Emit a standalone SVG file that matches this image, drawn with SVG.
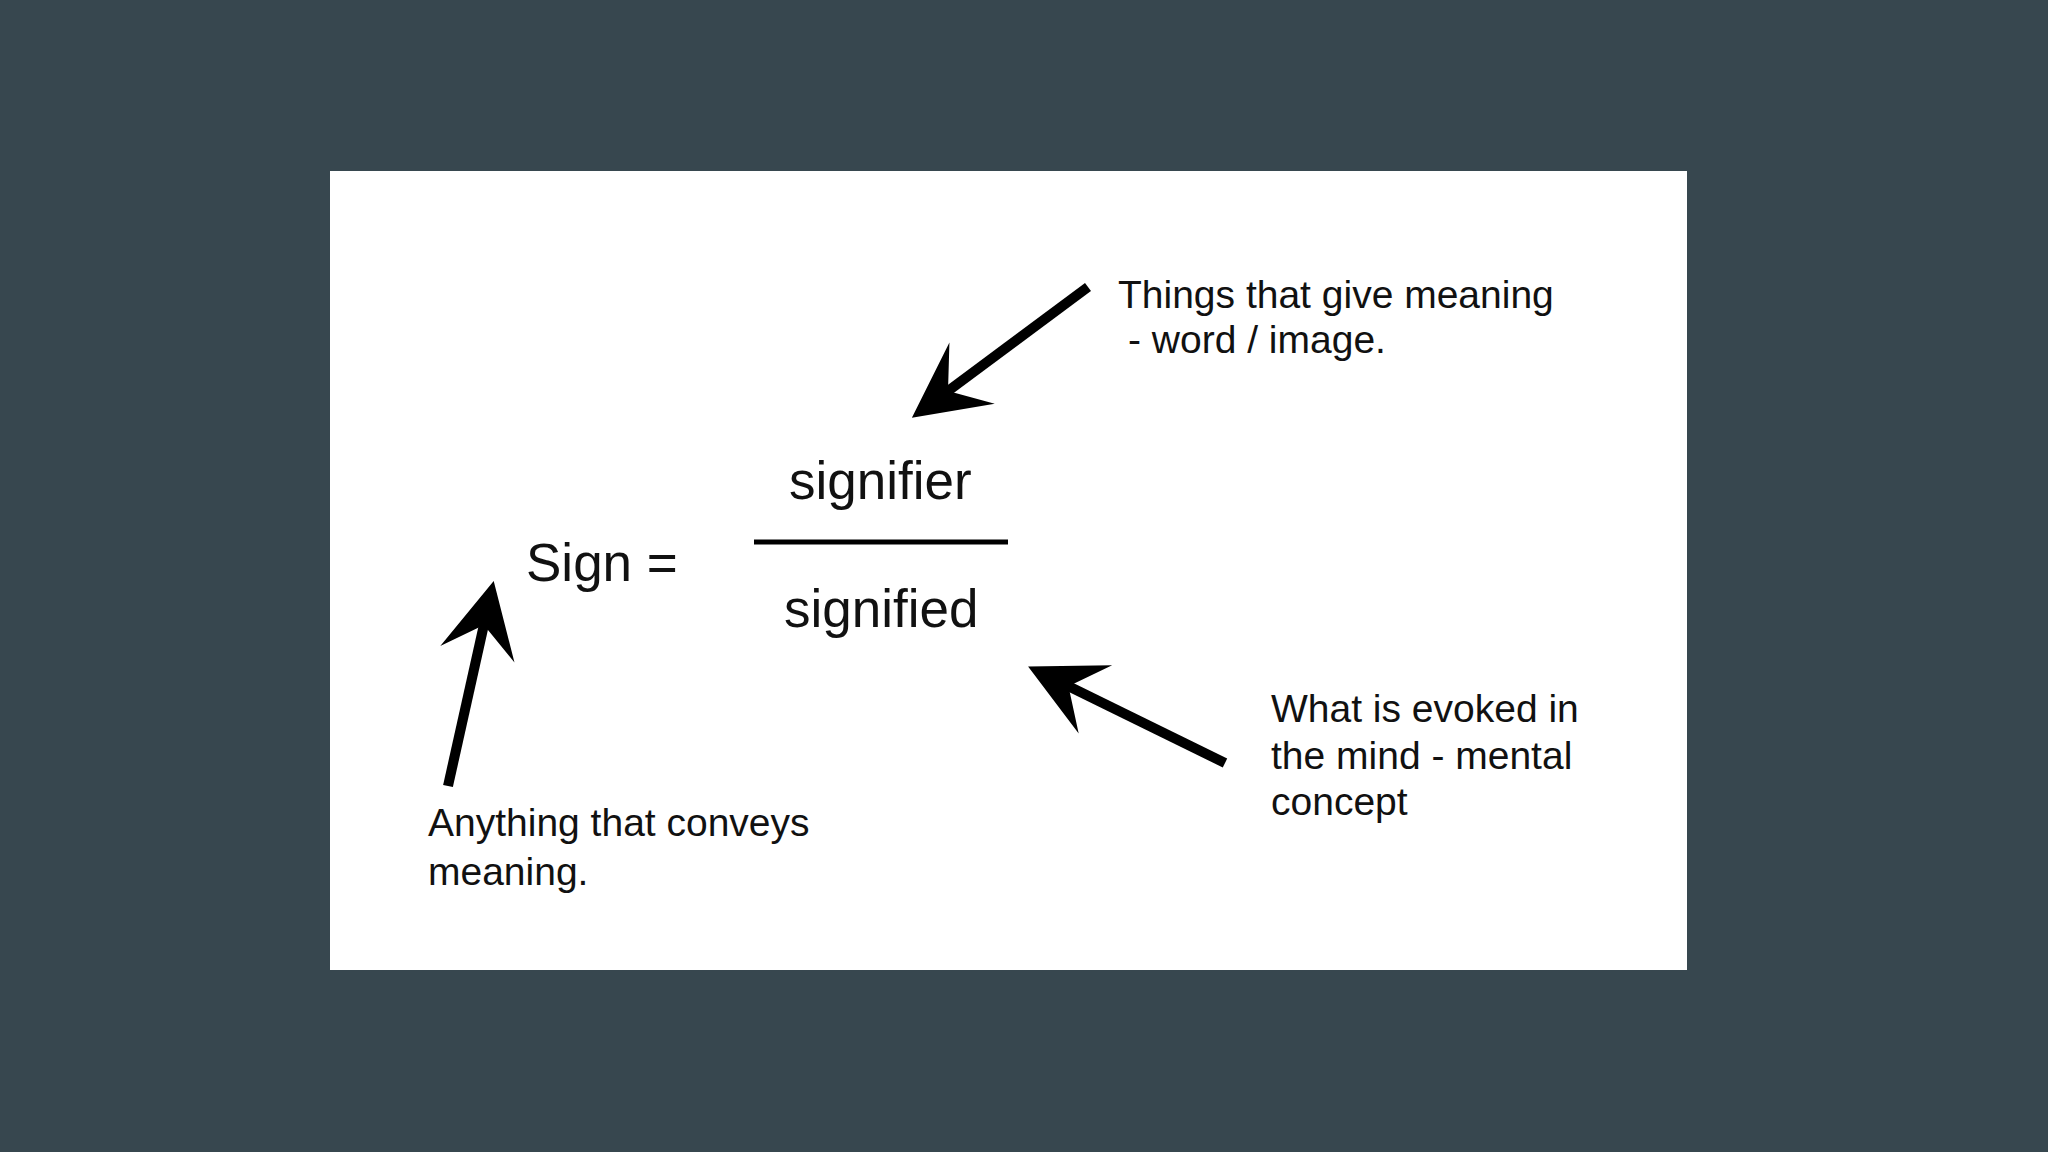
<svg xmlns="http://www.w3.org/2000/svg" width="2048" height="1152" viewBox="0 0 2048 1152">
<style>
.t{font-family:"Liberation Sans",Arial,sans-serif;fill:#111}
.s{font-size:39px}
.b{font-size:53px}
.a{stroke:#000;stroke-width:10;fill:none;marker-end:url(#h)}
</style>
<defs>
<marker id="h" markerUnits="userSpaceOnUse" viewBox="-40 -45 90 90" refX="0" refY="0" markerWidth="90" markerHeight="90" orient="auto">
<path d="M40,0 L-35,-38 L-5,0 L-35,38 Z" fill="#000"/>
</marker>
</defs>
<rect width="2048" height="1152" fill="#37474f"/>
<rect x="330" y="171" width="1357" height="799" fill="#fff"/>
<g id="connectors">
<line class="a" x1="1088" y1="287" x2="944" y2="394"/>
<line class="a" x1="448" y1="786" x2="485" y2="620"/>
<line class="a" x1="1225" y1="763" x2="1064" y2="684"/>
</g>
<g id="sign"><text class="t b" x="526" y="581">Sign =</text></g>
<g id="signifier"><text class="t b" x="789" y="499">signifier</text></g>
<g id="bar"><line x1="754" y1="542" x2="1008" y2="542" stroke="#000" stroke-width="5"/></g>
<g id="signified"><text class="t b" x="784" y="627">signified</text></g>
<g id="note1"><text class="t s" x="1118" y="308">Things that give meaning</text><text class="t s" x="1128" y="353"> - word / image.</text></g>
<g id="note2"><text class="t s" x="1271" y="722">What is evoked in</text><text class="t s" x="1271" y="769">the mind - mental</text><text class="t s" x="1271" y="815">concept</text></g>
<g id="note3"><text class="t s" x="428" y="836">Anything that conveys</text><text class="t s" x="428" y="885">meaning.</text></g>
</svg>
